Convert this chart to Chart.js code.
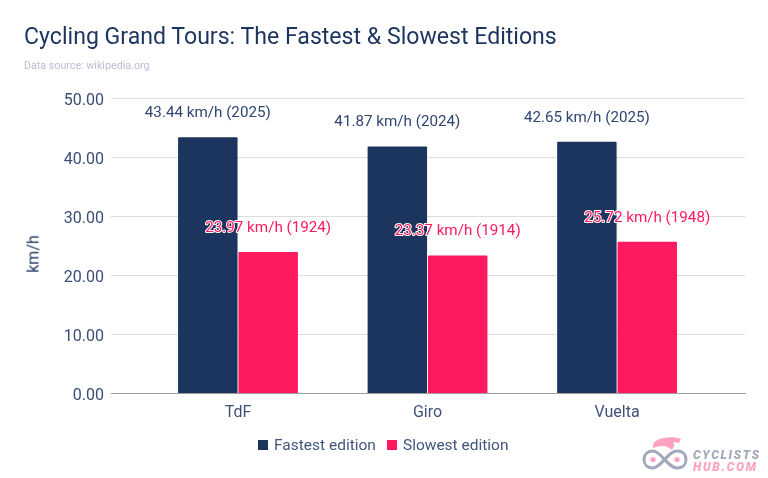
<!DOCTYPE html>
<html>
<head>
<meta charset="utf-8">
<title>Cycling Grand Tours</title>
<script src="https://cdn.jsdelivr.net/npm/chart.js@4"></script>
<style>
  html, body { margin: 0; padding: 0; background: #fff; }
  #wrap { position: relative; width: 768px; height: 478px; overflow: hidden; font-family: Roboto, sans-serif; }
  #chart { position: absolute; left: 0; top: 0; }
  h1 { position: absolute; left: 24px; top: 22px; margin: 0; font-size: 23.1px; font-weight: 400; line-height: 30px; color: #1c355e; white-space: nowrap; }
  #source { position: absolute; left: 24px; top: 58px; font-size: 10.7px; line-height: 15px; color: #b9bfd2; white-space: nowrap; }
  #ytitle { position: absolute; left: 33px; top: 254px; transform: translate(-50%, -50%) rotate(-90deg); font-size: 16px; color: #1c355e; white-space: nowrap; }
  #legend { position: absolute; left: 258px; top: 436px; height: 18px; display: flex; align-items: center; font-size: 15.5px; color: #43557d; white-space: nowrap; }
  #legend i { display: inline-block; width: 10px; height: 10px; margin-right: 6px; }
  #legend span { margin-right: 11px; }
  #logo { position: absolute; left: 640px; top: 432px; width: 128px; height: 46px; }
</style>
</head>
<body>
<div id="wrap">
  <canvas id="chart" width="768" height="478"></canvas>
  <h1>Cycling Grand Tours: The Fastest &amp; Slowest Editions</h1>
  <div id="source">Data source: wikipedia.org</div>
  <div id="ytitle">km/h</div>
  <div id="legend"></div>
  <svg id="logo" viewBox="0 0 128 46">
    <path d="M13 16 C12 10 17 7 24 6 C30 5 36 5 41 7 L39 11 L33 10 C35 13 34 15 32 18 C27 13 20 13 13 16 Z" fill="#ffa3c0"/>
    <path d="M13 19 C7 19 4 23 4 27.5 C4 32 7 36 13 36 C21 36 28 19 37 19 C43 19 46 23 46 27.5 C46 32 43 36 37 36 C28 36 21 19 13 19 Z" fill="none" stroke="#a2a9ba" stroke-width="3"/>
    <circle cx="13" cy="27.5" r="2.6" fill="#ffa3c0"/>
    <circle cx="37" cy="27.5" r="2.6" fill="#ffa3c0"/>
    <text x="53" y="27" font-family="Roboto" font-weight="900" font-style="italic" font-size="12" letter-spacing="1.7" fill="#a2a9ba">CYCLISTS</text>
    <text x="53" y="39" font-family="Roboto" font-weight="900" font-style="italic" font-size="12" letter-spacing="1.7" fill="#ffa3c0">HUB.COM</text>
  </svg>
</div>
<script>
document.addEventListener("DOMContentLoaded", function () {
  const categories = ['TdF', 'Giro', 'Vuelta'];
  const fastest = [43.44, 41.87, 42.65];
  const slowest = [23.97, 23.37, 25.72];
  const fastestYears = [2025, 2024, 2025];
  const slowestYears = [1924, 1914, 1948];

  const navy = '#1c355e';
  const pink = '#ff1a5f';

  const toPoints = (values) => values.map((v, i) => ({ x: i, y: v }));

  // Text above each bar, pink ones get a white outline since they run over the navy bars
  const barLabels = {
    id: 'barLabels',
    afterDatasetsDraw(chart) {
      const ctx = chart.ctx;
      ctx.save();
      ctx.font = '15.2px Roboto';
      ctx.textAlign = 'center';
      ctx.textBaseline = 'middle';
      chart.data.datasets.forEach((ds, d) => {
        chart.getDatasetMeta(d).data.forEach((bar, i) => {
          const text = ds.data[i].y.toFixed(2) + ' km/h (' + ds.years[i] + ')';
          const y = bar.y - 24;
          if (d === 1) {
            ctx.lineWidth = 2;
            ctx.lineJoin = 'round';
            ctx.strokeStyle = '#fff';
            ctx.strokeText(text, bar.x, y);
          }
          ctx.fillStyle = d === 1 ? pink : '#2f4570';
          ctx.fillText(text, bar.x, y);
        });
      });
      ctx.restore();
    }
  };

  const chart = new Chart(document.getElementById('chart').getContext('2d'), {
    type: 'bar',
    data: {
      datasets: [
        { label: 'Fastest edition', data: toPoints(fastest), years: fastestYears, backgroundColor: navy, borderRadius: 1 },
        { label: 'Slowest edition', data: toPoints(slowest), years: slowestYears, backgroundColor: pink, borderRadius: 1 }
      ]
    },
    options: {
      responsive: false,
      animation: false,
      layout: { padding: { top: 98.5, left: 24, right: 23, bottom: 51.5 } },
      categoryPercentage: 0.637,
      barPercentage: 0.985,
      scales: {
        x: {
          type: 'linear',
          offset: false,
          min: -0.67,
          max: 2.675,
          afterBuildTicks: (axis) => { axis.ticks = categories.map((c, i) => ({ value: i })); },
          afterFit: (axis) => { axis.height = 33; },
          grid: { display: false },
          border: { color: '#9e9e9e', width: 1 },
          ticks: {
            autoSkip: false,
            maxRotation: 0,
            padding: 2,
            color: '#3f5079',
            font: { family: 'Roboto', size: 16 },
            callback: (value) => categories[value]
          }
        },
        y: {
          min: 0,
          max: 50,
          afterFit: (axis) => { axis.width = 87; },
          grid: { color: '#dcdcdc', drawTicks: false },
          border: { display: false },
          ticks: {
            stepSize: 10,
            padding: 7,
            labelOffset: 2,
            color: '#3a4d78',
            font: { family: 'Roboto', size: 16 },
            callback: (value) => value.toFixed(2)
          }
        }
      },
      plugins: {
        tooltip: { enabled: false },
        legend: { display: false }
      }
    },
    plugins: [barLabels]
  });

  // Legend entries come from the datasets
  const legend = document.getElementById('legend');
  chart.data.datasets.forEach((ds) => {
    const box = document.createElement('i');
    box.style.background = ds.backgroundColor;
    const label = document.createElement('span');
    label.textContent = ds.label;
    legend.append(box, label);
  });
});
</script>
</body>
</html>
